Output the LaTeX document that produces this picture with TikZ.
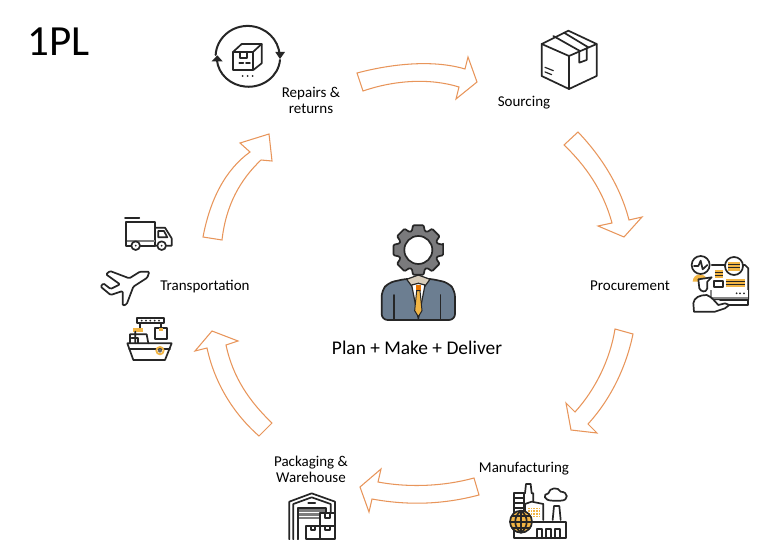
\documentclass[tikz,border=0pt]{standalone}
\usepackage{fontspec}
\setmainfont{Carlito}
\definecolor{arrowline}{HTML}{E8955A}
\definecolor{ink}{HTML}{262626}
\definecolor{gold}{HTML}{F2B544}
\definecolor{gearfill}{HTML}{7A7A7C}
\definecolor{suitfill}{HTML}{6C7E91}
\definecolor{shirtfill}{HTML}{D8CDBB}
\tikzset{
  flow/.style={draw=arrowline,line width=1.05pt,fill=white,line join=miter},
  lab/.style={font=\fontsize{15}{16}\selectfont,align=center,text=black,inner sep=0pt},
  icon/.style={draw=ink,line width=1.7pt,line join=round,line cap=round},
  zoomed/.style={x=0.3333pt,y=-0.3333pt}
}
\begin{document}
\begin{tikzpicture}[x=1pt,y=-1pt]
\useasboundingbox (0,0) rectangle (766,540);
\fill[white] (0,0) rectangle (766,540);

% arrows
\draw[flow] (357,73) .. controls (395,63) and (435,60) .. (465,69) -- (468,57) -- (477,82) -- (456,99) -- (459,87) .. controls (430,78) and (395,80) .. (363,91) -- cycle;
\draw[flow] (578,132) .. controls (600,155) and (620,185) .. (629,220) -- (642,217) -- (624,237) -- (598,226) -- (612,223) .. controls (603,190) and (585,165) .. (564,145) -- cycle;
\draw[flow] (615,329) .. controls (610,360) and (595,390) .. (575,412) -- (566,403) -- (571,430) -- (597,433) -- (588,424) .. controls (610,400) and (626,368) .. (633,334) -- cycle;
\draw[flow] (474,478) .. controls (445,486) and (410,488) .. (378,482) -- (381,469) -- (360,487) -- (369,512) -- (372,499) .. controls (410,506) and (445,504) .. (479,495) -- cycle;
\draw[flow] (272,423) .. controls (250,402) and (233,378) .. (226,345) -- (238,341) -- (212,331) -- (195,351) -- (207,348) .. controls (215,385) and (235,415) .. (259,436) -- cycle;
\draw[flow] (203,237) .. controls (210,200) and (225,170) .. (250,152) -- (240,143) -- (269,134) -- (272,161) -- (261,160) .. controls (240,180) and (226,205) .. (222,240) -- cycle;

% labels
\node[font=\fontsize{43}{45}\selectfont,inner sep=0pt] (title) at (59,42) {1PL};
\node[lab] (repairs) at (311,100) {Repairs \&\\returns};
\node[lab] (sourcing) at (524,103) {Sourcing};
\node[lab] (procurement) at (630,286) {Procurement};
\node[lab] (manufacturing) at (524,469) {Manufacturing};
\node[lab] (packaging) at (311,469) {Packaging \&\\Warehouse};
\node[lab] (transportation) at (205,287) {Transportation};
\node[font=\fontsize{19.4}{20}\selectfont,inner sep=0pt] (centre) at (417,348) {Plan + Make + Deliver};

% repairs icon
\begin{scope}[shift={(200,10)},zoomed]
\draw[icon,line width=2pt] (47,135) arc[start angle=177,end angle=3,x radius=96,y radius=-92];
\draw[icon,line width=2pt] (240,150) arc[start angle=-5,end angle=-175,x radius=95,y radius=-88];
\fill[ink] (226,126) -- (255,126) -- (240,147) -- cycle;
\fill[ink] (35,154) -- (68,154) -- (52,136) -- cycle;
\draw[icon] (100,125) -- (160,125) -- (160,180) -- (100,180) -- cycle;
\draw[icon] (100,125) -- (125,102) -- (185,102) -- (160,125);
\draw[icon] (185,102) -- (185,160) -- (160,180);
\draw[icon] (120,125) -- (120,145) -- (140,145) -- (140,125);
\draw[icon] (118,160) -- (130,160) (138,160) -- (150,160);
\fill[ink] (128,198) circle[radius=3] (143,198) circle[radius=3] (158,198) circle[radius=3];
\end{scope}

% sourcing icon
\begin{scope}[shift={(490,20)},zoomed]
\draw[icon] (235,32) -- (320,72) -- (320,168) -- (237,207) -- (155,168) -- (155,72) -- cycle;
\draw[icon] (155,72) -- (237,108) -- (320,72);
\draw[icon] (237,108) -- (237,207);
\draw[icon] (190,48) -- (268,92) (222,38) -- (295,82);
\draw[icon] (268,94) -- (268,128) -- (290,120) -- (290,84);
\draw[icon,line width=1.2pt] (165,142) -- (190,152) (165,156) -- (185,164);
\end{scope}

% procurement icon
\begin{scope}[shift={(670,240)},zoomed]
\fill[gold] (68,125) arc[start angle=180,end angle=360,radius=22] -- cycle;
\draw[icon] (125,75) -- (225,75) -- (235,85) -- (235,178) -- (125,178);
\fill[ink!55] (120,178) rectangle (233,150);
\fill[white] (125,150) rectangle (233,172);
\draw[icon] (150,180) -- (235,180) -- (235,195) -- (175,195);
\fill[gold] (134,90) rectangle (160,113);
\fill[gold] (167,116) rectangle (226,142);
\draw[ink,line width=1.1pt] (134,98) -- (160,98) (134,106) -- (160,106) (167,125) -- (226,125) (167,134) -- (226,134);
\draw[icon,fill=white] (133,122) rectangle (158,140);
\draw[icon,fill=white] (92,75) circle[radius=27];
\draw[icon] (72,78) -- (85,78) -- (92,62) -- (98,88) -- (112,75);
\draw[icon,fill=white] (192,78) circle[radius=27];
\fill[gold] (175,66) rectangle (210,92);
\draw[ink,line width=1.1pt] (175,74) -- (210,74) (175,83) -- (210,83);
\draw[icon,fill=white] (85,118) -- (125,112) -- (112,125) -- (112,145) .. controls (108,160) and (92,155) .. (88,145) -- cycle;
\draw[icon,fill=white] (72,215) -- (70,190) .. controls (72,172) and (90,165) .. (110,165) .. controls (125,170) and (135,185) .. (145,195) -- (165,190) -- (178,195) -- (165,205) -- (135,215) -- cycle;
\fill[ink] (200,160) circle[radius=3] (210,160) circle[radius=3] (222,160) circle[radius=3];
\end{scope}

% manufacturing icon
\begin{scope}[shift={(490,470)},zoomed]
\draw[icon] (72,70) rectangle (103,135);
\draw[icon] (72,85) -- (103,85) (72,100) -- (103,100) (72,115) -- (103,115);
\draw[icon] (105,70) -- (108,42) -- (122,42) -- (125,70) -- (130,70) -- (130,100);
\draw[icon,fill=white] (105,150) -- (105,102) -- (125,95) -- (160,102) -- (160,150);
\foreach \xa in {114,122,130,138,146} \foreach \ya in {113,121,129,137} {\fill[gold] (\xa,\ya) rectangle +(5,5);}
\draw[icon,fill=white] (188,150) -- (192,108) -- (208,108) -- (212,150);
\draw[icon] (188,92) .. controls (160,92) and (158,72) .. (175,70) .. controls (178,52) and (205,50) .. (212,65) .. controls (235,65) and (238,92) .. (212,92) -- cycle;
\draw[icon,fill=white] (125,155) -- (228,155) -- (228,205) -- (72,205) -- (72,180);
\foreach \xa in {140,167,194} {\draw[icon] (\xa,205) -- (\xa,178) -- (\xa+17,178) -- (\xa+17,205);}
\draw[icon,fill=gold] (93,155) circle[radius=33];
\draw[icon] (60,155) -- (126,155) (93,122) -- (93,188);
\draw[icon] (93,122) .. controls (70,140) and (70,170) .. (93,188) .. controls (116,170) and (116,140) .. (93,122);
\draw[icon] (66,137) -- (120,137) (66,173) -- (120,173);
\end{scope}

% warehouse icon
\begin{scope}[shift={(270,480)},zoomed]
\draw[icon] (58,178) -- (58,65) -- (125,40) -- (195,65) -- (195,100);
\draw[icon] (70,178) -- (70,72) -- (125,52) -- (182,72) -- (182,100);
\draw[icon,line width=2.2pt] (115,68) -- (135,68);
\draw[icon] (85,178) -- (85,85) -- (168,85) -- (168,100);
\fill[ink!60] (87,87) rectangle (166,118);
\draw[white,line width=0.8pt] (87,97) -- (166,97) (87,108) -- (166,108);
\draw[icon,fill=white] (150,100) rectangle (195,138);
\draw[icon,fill=white] (108,138) rectangle (150,176);
\draw[icon,fill=white] (150,138) rectangle (195,176);
\draw[icon] (165,100) -- (165,113) -- (180,113) -- (180,100) (122,138) -- (122,151) -- (136,151) -- (136,138) (165,138) -- (165,151) -- (180,151) -- (180,138);
\end{scope}

% transport icons
\begin{scope}[shift={(90,205)},zoomed]
\draw[icon] (105,40) -- (148,40);
\draw[icon] (122,122) -- (108,122) -- (108,50) -- (195,50) -- (195,122) -- (152,122);
\draw[ink!60,line width=1.4pt] (112,108) -- (195,108);
\draw[icon] (195,68) -- (225,68) -- (245,100) -- (245,122) -- (230,122) (200,122) -- (195,122);
\draw[icon] (205,78) -- (222,78) -- (232,97) -- (205,97) -- cycle;
\draw[icon] (137,122) circle[radius=13] (215,122) circle[radius=13];
\fill[ink] (137,122) circle[radius=3] (215,122) circle[radius=3];
\draw[icon,rounded corners=1.2pt] (178,200) -- (150,200) -- (118,220) -- (60,198) -- (48,208) -- (90,238) -- (62,252) -- (40,235) -- (32,245) -- (62,270) -- (98,258) -- (98,302) -- (110,298) -- (130,245) -- (172,218) -- cycle;
\draw[icon] (140,340) -- (222,340) -- (222,355) -- (140,355) -- cycle;
\foreach \xa in {155,168,181,194,207} {\fill[ink] (\xa,347) circle[radius=3];}
\draw[icon] (150,355) -- (150,368) (213,355) -- (213,368);
\fill[gold] (130,370) rectangle (160,380);
\draw[icon] (136,380) -- (136,415) (120,415) -- (120,388) -- (170,388) -- (175,415);
\draw[icon] (125,398) -- (145,398) -- (145,415);
\draw[icon] (195,368) rectangle (232,403);
\fill[gold] (207,368) rectangle (220,378);
\draw[icon] (112,415) -- (245,415) -- (225,465) -- (130,465) -- cycle;
\draw[icon] (118,432) -- (240,432);
\draw[gold,line width=1.8pt] (210,437) circle[radius=11];
\fill[ink!70] (210,437) circle[radius=6];
\end{scope}

% centre person
\begin{scope}[shift={(370,220)},zoomed]
\draw[icon,line width=1.7pt,fill=suitfill,rounded corners=6pt] (35,300) -- (35,212) -- (55,188) -- (110,176) -- (180,176) -- (235,188) -- (255,212) -- (255,300) -- cycle;
\draw[icon,line width=1.2pt,fill=shirtfill] (110,178) -- (145,165) -- (180,178) -- (160,205) -- (145,190) -- (130,205) -- cycle;
\draw[icon,line width=1.2pt,fill=white] (125,195) -- (145,190) -- (165,195) -- (145,298) -- cycle;
\fill[orange!90!black] (138,196) rectangle (152,212);
\draw[ink,line width=1pt,fill=gold] (140,212) -- (150,212) -- (156,272) -- (145,290) -- (134,272) -- cycle;
\draw[icon,line width=1.5pt] (72,225) -- (72,298) (212,225) -- (212,298);
\draw[icon,line width=1.7pt,fill=gearfill,rounded corners=1pt]
  ([shift={(145,90)}]-12:76) \foreach \a in {0,45,...,315} { -- ([shift={(145,90)}]\a-12:76) -- ([shift={(145,90)}]\a+12:76) -- ([shift={(145,90)}]\a+19:60) -- ([shift={(145,90)}]\a+26:60) } -- cycle;
\draw[icon,line width=1.7pt,fill=white] (145,90) circle[radius=42];
\end{scope}
\end{tikzpicture}
\end{document}
